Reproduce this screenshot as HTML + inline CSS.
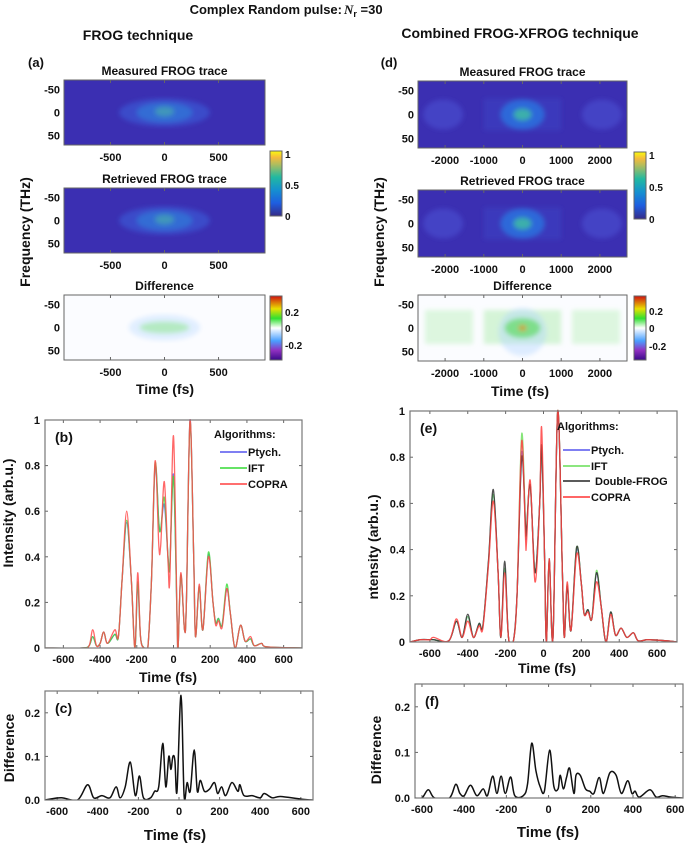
<!DOCTYPE html>
<html><head><meta charset="utf-8"><style>
html,body{margin:0;padding:0;background:#fff;}
svg{display:block;font-family:"Liberation Sans",sans-serif;font-weight:bold;}
</style></head><body>
<svg id="fig" width="685" height="846" viewBox="0 0 685 846">
<defs>
<linearGradient id="parula" x1="0" y1="1" x2="0" y2="0">
<stop offset="0" stop-color="#352a87"/><stop offset="0.2" stop-color="#1e5ee0"/><stop offset="0.4" stop-color="#1590d0"/><stop offset="0.6" stop-color="#22b9a0"/><stop offset="0.8" stop-color="#b3bd5c"/><stop offset="0.9" stop-color="#f5ba3c"/><stop offset="1" stop-color="#f9fb0e"/></linearGradient>
<linearGradient id="jetdiv" x1="0" y1="1" x2="0" y2="0">
<stop offset="0" stop-color="#3a0a8a"/><stop offset="0.15" stop-color="#9030c0"/><stop offset="0.3" stop-color="#4aa0ff"/><stop offset="0.5" stop-color="#ffffff"/><stop offset="0.65" stop-color="#30e030"/><stop offset="0.8" stop-color="#e8e000"/><stop offset="1" stop-color="#d01010"/></linearGradient>
<filter id="blur2"><feGaussianBlur stdDeviation="2.5"/></filter>
</defs>
<g id="root"></g>
</svg>
<script>
// ---- data: panel (b) ----
const tB = [-700,-500,-460,-440,-420,-400,-380,-360,-320,-300,-280,-255,-230,-210,-195,-180,-160,-140,-120,-100,-80,-70,-50,-30,-20,0,20,25,40,60,70,90,110,120,140,160,190,215,230,245,265,290,310,335,365,390,420,440,480,510,700];
const ptychB = [0,0,0.01,0.05,0.01,0.02,0.07,0.02,0.06,0.05,0.3,0.55,0.3,0,0.28,0.05,0,0,0.3,0.8,0.55,0.52,0.63,0.4,0.36,0.76,0.1,0,0.32,0.08,0.2,1.0,0.4,0.05,0.27,0.08,0.41,0.2,0.11,0.13,0.1,0.26,0.15,0,0.1,0.03,0.04,0.01,0.02,0.005,0];
const iftB   = [0,0,0.01,0.05,0.01,0.02,0.07,0.02,0.06,0.05,0.3,0.56,0.3,0,0.29,0.05,0,0,0.3,0.81,0.55,0.52,0.66,0.4,0.36,0.75,0.1,0,0.32,0.08,0.2,0.99,0.4,0.05,0.27,0.08,0.42,0.2,0.11,0.13,0.1,0.28,0.15,0,0.1,0.03,0.04,0.01,0.02,0.005,0];
const copraB = [0,0,0.01,0.08,0.01,0.02,0.07,0.02,0.08,0.05,0.3,0.6,0.3,0,0.33,0.05,0,0,0.3,0.82,0.45,0.45,0.73,0.38,0.3,0.93,0.1,0,0.33,0.08,0.2,1.0,0.4,0.05,0.28,0.08,0.4,0.2,0.1,0.12,0.09,0.26,0.15,0,0.1,0.03,0.05,0.01,0.02,0.005,0];
// ---- data: panel (c) ----
const tC = [-660,-580,-500,-450,-420,-380,-340,-310,-290,-265,-240,-215,-195,-175,-140,-120,-100,-80,-65,-50,-40,-30,-20,-10,10,25,40,55,75,90,105,125,150,175,190,210,230,260,290,300,320,360,400,420,460,500,600,660];
const diffC = [0,0.005,0,0.035,0.005,0.01,0.005,0.03,0.005,0.03,0.087,0.01,0.055,0.005,0.005,0.02,0.03,0.13,0.03,0.1,0.07,0.1,0.09,0.02,0.24,0.01,0.04,0.02,0.115,0.02,0.045,0.02,0.025,0.04,0.015,0.03,0.01,0.04,0.02,0.035,0.01,0.01,0.005,0.015,0.005,0.008,0.002,0];
// ---- data: panel (e) ----
const tE = [-705,-650,-600,-580,-500,-460,-430,-400,-370,-340,-320,-290,-265,-240,-225,-205,-185,-160,-140,-115,-95,-90,-70,-45,-20,-10,5,15,30,50,75,100,110,125,145,175,200,215,235,255,280,305,330,355,380,410,440,475,500,550,650,705];
const ptychE = [0,0.01,0.01,0.01,0.005,0.09,0.02,0.11,0.02,0.08,0.07,0.35,0.64,0.3,0.02,0.32,0.02,0,0.2,0.82,0.5,0.46,0.68,0.3,0.6,0.84,0.4,0,0.35,0.02,0.99,0.3,0.02,0.25,0.05,0.4,0.25,0.12,0.14,0.1,0.3,0.15,0,0.13,0.03,0.06,0.02,0.04,0.005,0.01,0.005,0];
const iftE   = [0,0.01,0.01,0.01,0.005,0.09,0.02,0.11,0.02,0.08,0.07,0.35,0.64,0.3,0.02,0.32,0.02,0,0.2,0.9,0.5,0.48,0.68,0.3,0.6,0.85,0.4,0,0.35,0.02,1.0,0.3,0.02,0.25,0.05,0.41,0.25,0.12,0.14,0.1,0.31,0.15,0,0.13,0.03,0.06,0.02,0.04,0.005,0.01,0.005,0];
const doubleE= [0,0.01,0.01,0.01,0.005,0.09,0.02,0.12,0.02,0.08,0.07,0.36,0.66,0.3,0.02,0.35,0.02,0,0.2,0.8,0.5,0.48,0.68,0.3,0.6,0.85,0.4,0,0.36,0.02,1.0,0.3,0.02,0.24,0.05,0.41,0.25,0.12,0.14,0.1,0.3,0.15,0,0.13,0.03,0.06,0.02,0.04,0.005,0.01,0.005,0];
const copraE = [0,0.01,0.01,0.02,0.005,0.1,0.02,0.09,0.02,0.07,0.06,0.34,0.61,0.3,0.02,0.3,0.02,0,0.2,0.87,0.45,0.43,0.7,0.26,0.6,0.93,0.4,0,0.36,0.02,1.0,0.3,0.02,0.26,0.05,0.38,0.25,0.12,0.13,0.1,0.26,0.15,0,0.12,0.03,0.06,0.02,0.04,0.005,0.01,0.005,0];
// ---- data: panel (f) ----
const tF = [-633,-600,-570,-540,-470,-440,-420,-400,-370,-340,-310,-290,-265,-245,-225,-205,-180,-160,-120,-100,-80,-60,-40,-20,5,25,45,55,70,85,100,120,130,150,175,195,215,240,260,290,320,345,375,395,410,430,480,510,540,580,637];
const diffF = [0,0,0.018,0,0,0.03,0.01,0.005,0.028,0.005,0.02,0.005,0.048,0.01,0.048,0.01,0.046,0.005,0.005,0.03,0.12,0.06,0.025,0.015,0.105,0.025,0.02,0.05,0.02,0.045,0.065,0.01,0.05,0.05,0.02,0.015,0.01,0.045,0.01,0.055,0.05,0.01,0.038,0.01,0.015,0.002,0.018,0.002,0.005,0.002,0];
// tick labels
const ticksIntensity = [0,0.2,0.4,0.6,0.8,1];
const ticksDiff = [0.0,0.1,0.2];
const ticksTime = [-600,-400,-200,0,200,400,600];

const NS='http://www.w3.org/2000/svg';
const root=document.getElementById('root');
function mk(tag,attrs,parent){const e=document.createElementNS(NS,tag);for(const k in attrs)e.setAttribute(k,attrs[k]);(parent||root).appendChild(e);return e;}
function txt(x,y,s,size,anchor,rot,parent){const e=mk('text',{x:x,y:y,'font-size':size,'text-anchor':anchor||'middle',fill:'#111'},parent);if(rot)e.setAttribute('transform','rotate(-90 '+x+' '+y+')');e.textContent=s;return e;}

let t=txt(342,14,'Complex Random pulse: ',13,'end');
t=mk('text',{x:344,y:14,'font-size':13,fill:'#111'});t.innerHTML='<tspan font-family="Liberation Serif" font-style="italic">N</tspan><tspan font-size="9" dy="3">r</tspan><tspan dy="-3"> =30</tspan>';

t=txt(138,40,'FROG technique',14);
t=txt(520,38,'Combined FROG-XFROG technique',14);
t=txt(36,67,'(a)',13);
t=txt(389,67,'(d)',13);

let hid=0;
function heat(x0,x1,y0,y1,tr,title,kind,ticks,name){
  const g=mk('g',{});
  
  
  const cx=(x0+x1)/2, cy=(y0+y1)/2, w=x1-x0;
  txt(cx,y0-5,title,12,'middle',0,g);
  mk('rect',{x:x0,y:y0,width:w,height:y1-y0,fill:kind[0]==='d'?'#fbfcff':'#3b2fb2'},g);
  const id='hc'+(hid++);
  const cp=mk('clipPath',{id:id},g);mk('rect',{x:x0,y:y0,width:w,height:y1-y0},cp);
  const outer=mk('g',{'clip-path':'url(#'+id+')'},g);
  const cl=mk('g',{filter:'url(#blur2)'},outer);
  const sx=w/(2*tr);
  if(kind==='left'){
    mk('ellipse',{cx:cx,cy:cy,rx:420*sx,ry:14,fill:'#3a62dc',opacity:0.55},cl);
    mk('ellipse',{cx:cx,cy:cy,rx:260*sx,ry:10,fill:'#2a8ee0',opacity:0.5},cl);
    mk('ellipse',{cx:cx,cy:cy-1,rx:90*sx,ry:5,fill:'#4cb8a8',opacity:0.55},cl);
  } else if(kind==='right'){
    [-2050,2050].forEach(c=>mk('ellipse',{cx:cx+c*sx,cy:cy,rx:20,ry:15,fill:'#4a52d6',opacity:0.55},cl));
    mk('rect',{x:cx-1000*sx,y:cy-16,width:2000*sx,height:32,fill:'#3c44c8',opacity:0.45},cl);
    mk('ellipse',{cx:cx,cy:cy,rx:22,ry:15,fill:'#2a7ee6',opacity:0.7},cl);
    mk('ellipse',{cx:cx,cy:cy,rx:9,ry:6,fill:'#40c0a0',opacity:0.8},cl);
  } else if(kind==='dleft'){
    mk('ellipse',{cx:cx,cy:cy,rx:330*sx,ry:13,fill:'#c8e2ff',opacity:0.5},cl);
    mk('ellipse',{cx:cx,cy:cy,rx:230*sx,ry:6,fill:'#90e890',opacity:0.55},cl);
  } else {
    [-1900,1900].forEach(c=>mk('rect',{x:cx+c*sx-24,y:cy-18,width:48,height:34,fill:'#b8f0b8',opacity:0.45},cl));
    mk('rect',{x:cx-1000*sx,y:cy-18,width:2000*sx,height:34,fill:'#b0eeb0',opacity:0.5},cl);
    mk('ellipse',{cx:cx,cy:cy+4,rx:24,ry:24,fill:'#b0d4ff',opacity:0.4},cl);
    mk('ellipse',{cx:cx,cy:cy,rx:18,ry:10,fill:'#50d850',opacity:0.6},cl);
    mk('ellipse',{cx:cx,cy:cy,rx:4,ry:3,fill:'#e09020',opacity:0.8},cl);
  }
  mk('rect',{x:x0,y:y0,width:w,height:y1-y0,fill:'none',stroke:'#666','stroke-width':1},g);
  const fy=v=>cy+v*(y1-y0)/140;
  [-50,0,50].forEach(v=>{txt(x0-4,fy(v)+4,String(v),11,'end',0,g);});
  ticks.forEach(v=>{const X=cx+v*sx;txt(X,y1+16,String(v),11,'middle',0,g);
    mk('line',{x1:X,y1:y0,x2:X,y2:y0+3,stroke:'#666'},g);mk('line',{x1:X,y1:y1,x2:X,y2:y1-3,stroke:'#666'},g);});
}
heat(64,265,80,145,930,'Measured FROG trace','left',[-500,0,500],'measured-trace-a');
heat(64,265,188,253,930,'Retrieved FROG trace','left',[-500,0,500],'retrieved-trace-a');
heat(64,265,295,360,930,'Difference','dleft',[-500,0,500],'difference-trace-a');
heat(418,627,81,148,2700,'Measured FROG trace','right',[-2000,-1000,0,1000,2000],'measured-trace-d');
heat(418,627,190,257,2700,'Retrieved FROG trace','right',[-2000,-1000,0,1000,2000],'retrieved-trace-d');
heat(418,627,295,361,2700,'Difference','dright',[-2000,-1000,0,1000,2000],'difference-trace-d');

function cbar(x,y0,y1,grad,labels,name){
  const g=mk('g',{});
  mk('rect',{x:x,y:y0,width:12,height:y1-y0,fill:grad,stroke:'#666'},g);
  labels.forEach(l=>txt(x+15,l[1]+4,l[0],10,'start',0,g));
}
cbar(270,151,216,'url(#parula)',[['1',154],['0.5',185],['0',216]],'colorbar-intensity-a');
cbar(270,296,360,'url(#jetdiv)',[['0.2',312],['0',328],['-0.2',345]],'colorbar-difference-a');
cbar(634,152,219,'url(#parula)',[['1',155],['0.5',187],['0',219]],'colorbar-intensity-d');
cbar(634,296,360,'url(#jetdiv)',[['0.2',311],['0',328],['-0.2',346]],'colorbar-difference-d');

t=txt(30,232,'Frequency (THz)',14,'middle',true);
t=txt(384,232,'Frequency (THz)',14,'middle',true);
t=txt(165,394,'Time (fs)',14);
t=txt(520,396,'Time (fs)',14);

function smooth(pts){let d='M'+pts[0][0].toFixed(1)+','+pts[0][1].toFixed(1);
  for(let i=0;i<pts.length-1;i++){const p0=pts[i-1]||pts[i],p1=pts[i],p2=pts[i+1],p3=pts[i+2]||p2;
    const c1=[p1[0]+(p2[0]-p0[0])/6,p1[1]+(p2[1]-p0[1])/6],c2=[p2[0]-(p3[0]-p1[0])/6,p2[1]-(p3[1]-p1[1])/6];
    d+='C'+c1[0].toFixed(1)+','+c1[1].toFixed(1)+' '+c2[0].toFixed(1)+','+c2[1].toFixed(1)+' '+p2[0].toFixed(1)+','+p2[1].toFixed(1);}
  return d;}
function chart(c){
  const g=mk('g',{});
  const X=v=>c.x0+(v-c.tmin)/(c.tmax-c.tmin)*(c.x1-c.x0);
  const Y=v=>c.y1-v/c.vmax*(c.y1-c.y0);
  c.yt.forEach(v=>{txt(c.x0-5,Y(v)+4,c.fmt(v),11,'end',0,g);
    mk('line',{x1:c.x0,y1:Y(v),x2:c.x0+3,y2:Y(v),stroke:'#666'},g);mk('line',{x1:c.x1,y1:Y(v),x2:c.x1-3,y2:Y(v),stroke:'#666'},g);});
  ticksTime.forEach(v=>{txt(X(v),c.y1+15,String(v),11,'middle',0,g);
    mk('line',{x1:X(v),y1:c.y1,x2:X(v),y2:c.y1-3,stroke:'#666'},g);mk('line',{x1:X(v),y1:c.y0,x2:X(v),y2:c.y0+3,stroke:'#666'},g);});
  const clip='clip-'+c.name;
  const cp=mk('clipPath',{id:clip},g);mk('rect',{x:c.x0,y:c.y0-2,width:c.x1-c.x0,height:c.y1-c.y0+2},cp);
  c.series.forEach(s=>{const p=mk('path',{d:smooth(c.t.map((tv,i)=>[X(tv),Y(s.v[i])])),fill:'none',stroke:s.col,'stroke-width':s.w||1.3,opacity:s.op||0.85,'clip-path':'url(#'+clip+')'},g);
    
    });
  mk('rect',{x:c.x0,y:c.y0,width:c.x1-c.x0,height:c.y1-c.y0,fill:'none',stroke:'#777','stroke-width':1.2},g);
  txt(c.x0+10,c.y0+22,c.label,14,'start',0,g);
  if(c.legend){const lg=mk('g',{},g);
    txt(c.legend.x-6,c.legend.y,'Algorithms:',11,'start',0,lg);
    c.series.slice().forEach((s,i)=>{const yy=c.legend.y+c.legend.rows[i];
      mk('line',{x1:c.legend.x,y1:yy-4,x2:c.legend.x+27,y2:yy-4,stroke:s.col,'stroke-width':2,opacity:0.8},lg);
      txt(c.legend.x+28+(s.key==='double-frog'?4:0),yy,s.label,11,'start',0,lg);});}
  txt(c.xlab[0],c.xlab[1],'Time (fs)',c.xlab[2],'middle',0,g);
  txt(c.ylab[0],c.ylab[1],c.ylab[3],14,'middle',true,g);
}
const f1=v=>String(v), f2=v=>v.toFixed(1);
chart({name:'intensity-chart-b',x0:45,x1:302,y0:420,y1:648,tmin:-700,tmax:700,vmax:1,yt:ticksIntensity,fmt:f1,t:tB,label:'(b)',
  series:[{key:'ptych',label:'Ptych.',col:'#6060f0',v:ptychB},{key:'ift',label:'IFT',col:'#40dd40',v:iftB},{key:'copra',label:'COPRA',col:'#ff4c4c',v:copraB}],
  legend:{x:220,y:438,rows:[18,34,50]},xlab:[168,682,14],ylab:[13,513,0,'Intensity (arb.u.)']});
chart({name:'difference-chart-c',x0:45,x1:313,y0:691,y1:800,tmin:-660,tmax:660,vmax:0.25,yt:ticksDiff,fmt:f2,t:tC,label:'(c)',
  series:[{key:'difference',label:'',col:'#111',v:diffC,w:1.5,op:1}],xlab:[175,840,15],ylab:[14,748,0,'Difference']});
chart({name:'intensity-chart-e',x0:410,x1:677,y0:411,y1:642,tmin:-705,tmax:705,vmax:1,yt:ticksIntensity,fmt:f1,t:tE,label:'(e)',
  series:[{key:'ptych',label:'Ptych.',col:'#6060f0',v:ptychE},{key:'ift',label:'IFT',col:'#70e060',v:iftE},{key:'double-frog',label:'Double-FROG',col:'#333',v:doubleE},{key:'copra',label:'COPRA',col:'#ff4040',v:copraE}],
  legend:{x:563,y:430,rows:[24,40,55,71]},xlab:[547,673,14],ylab:[378,547,0,'ntensity (arb.u.)']});
chart({name:'difference-chart-f',x0:415,x1:683,y0:684,y1:798,tmin:-633,tmax:637,vmax:0.25,yt:ticksDiff,fmt:f2,t:tF,label:'(f)',
  series:[{key:'difference',label:'',col:'#111',v:diffF,w:1.5,op:1}],xlab:[548,837,15],ylab:[381,750,0,'Difference']});
</script>
</body></html>
